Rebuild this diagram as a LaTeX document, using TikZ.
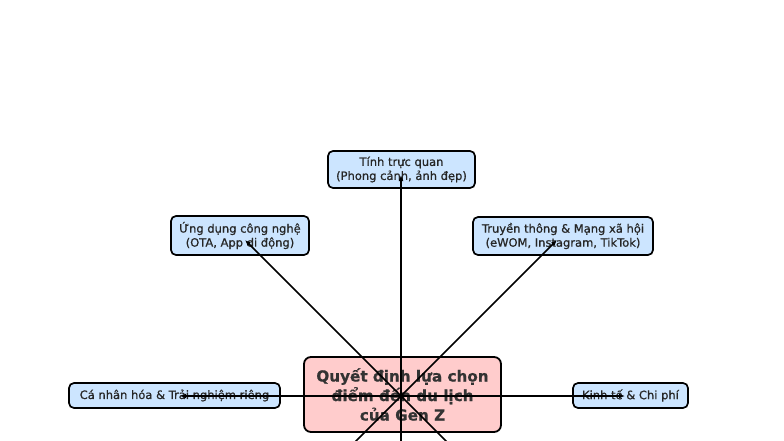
\documentclass[tikz,border=0pt]{standalone}
\usepackage{fontspec}
\setmainfont{DejaVu Sans}
\newfontfamily\boxfont[FakeBold=0.8]{DejaVu Sans}
\newfontfamily\corefont[FakeBold=0.6]{DejaVu Sans Bold}
\usetikzlibrary{arrows.meta}
\definecolor{pinkfill}{HTML}{FFCCCC}
\definecolor{bluefill}{HTML}{CCE5FF}
\definecolor{txt}{HTML}{333333}
\tikzset{
  factor/.style={draw=black, line width=1.7pt, rounded corners=5pt, fill=bluefill,
    align=center, inner sep=0pt, text=black!85,
    font=\boxfont\fontsize{11.5}{14}\selectfont},
  core/.style={draw=black, line width=1.8pt, rounded corners=7pt, fill=pinkfill,
    align=center, inner sep=0pt, text=txt,
    font=\corefont\fontsize{15.2}{19.5}\selectfont},
  spoke/.style={line width=1.7pt, draw=black, -{Latex[length=6pt,width=5pt]}},
  plainspoke/.style={line width=1.7pt, draw=black}
}
\begin{document}
\begin{tikzpicture}[x=1pt,y=-1pt]
\useasboundingbox (0,0) rectangle (784,441);
\clip (0,0) rectangle (784,441);
\node[core, minimum width=197pt, minimum height=75pt] (c) at (402.5,394.5)
  {Quyết định lựa chọn\\điểm đến du lịch\\của Gen Z};
\node[factor, minimum width=147pt, minimum height=37pt] (t) at (401.5,169.5)
  {Tính trực quan\\(Phong cảnh, ảnh đẹp)};
\node[factor, minimum width=138pt, minimum height=39pt] (u) at (240,235.5)
  {Ứng dụng công nghệ\\(OTA, App di động)};
\node[factor, minimum width=180pt, minimum height=38pt] (m) at (563,236)
  {Truyền thông \& Mạng xã hội\\(eWOM, Instagram, TikTok)};
\node[factor, minimum width=211pt, minimum height=25pt] (p) at (174.5,395.5)
  {Cá nhân hóa \& Trải nghiệm riêng};
\node[factor, minimum width=115pt, minimum height=25pt] (k) at (630.5,395.5)
  {Kinh tế \& Chi phí};
\coordinate (o) at (401,396);
\coordinate (tt) at (401,175);
\coordinate (ut) at (245,240);
\coordinate (mt) at (557,240);
\coordinate (pt) at (180,396);
\coordinate (kt) at (625,396);
\coordinate (d1) at (301,496);
\coordinate (d2) at (401,500);
\coordinate (d3) at (501,496);
\draw[spoke] (o) -- (tt);
\draw[spoke] (o) -- (ut);
\draw[spoke] (o) -- (mt);
\draw[spoke] (o) -- (pt);
\draw[spoke] (o) -- (kt);
\draw[plainspoke] (o) -- (d1);
\draw[plainspoke] (o) -- (d2);
\draw[plainspoke] (o) -- (d3);
\end{tikzpicture}
\end{document}
